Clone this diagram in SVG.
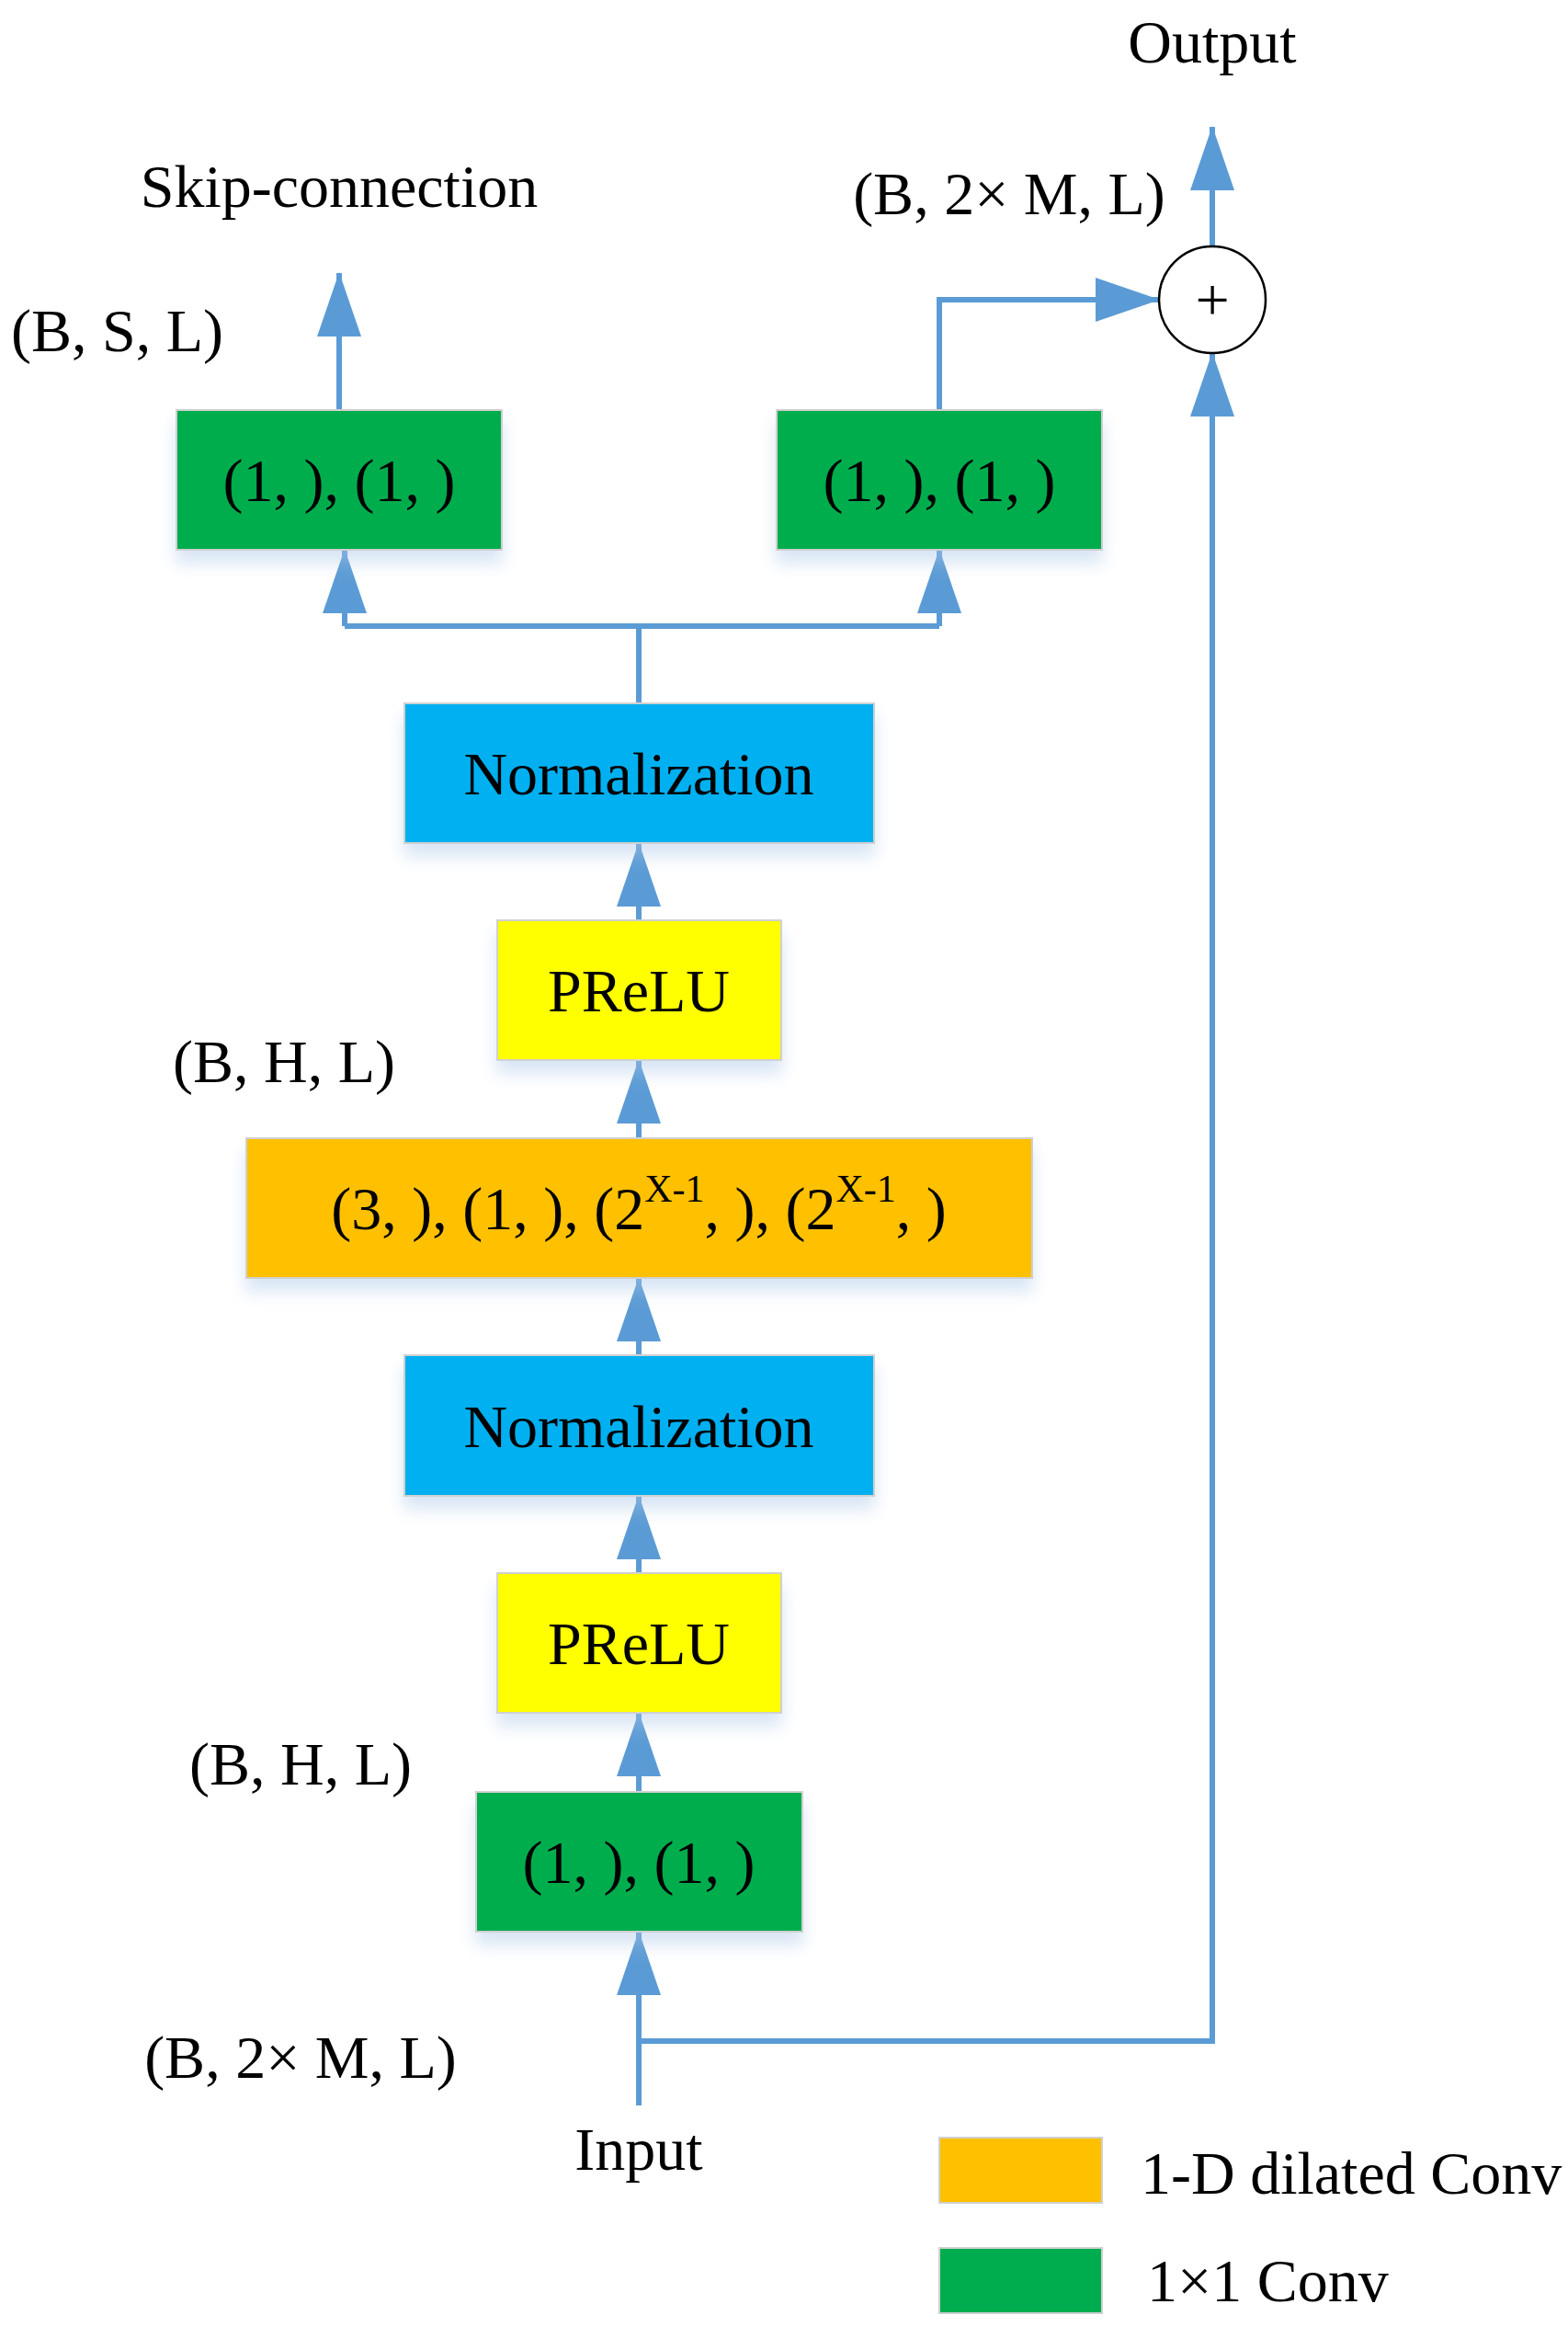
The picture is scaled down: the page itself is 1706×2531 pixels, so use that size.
<svg xmlns="http://www.w3.org/2000/svg" width="1706" height="2531" viewBox="0 0 1706 2531">
<style>
text{font-family:"Liberation Serif","Times New Roman",serif;fill:#000;font-size:66px}
.c{text-anchor:middle}
.box{stroke:#d0d0d0;stroke-width:2}
.g{fill:#00AD4E}.b{fill:#00B0F0}.y{fill:#FFFF00}.o{fill:#FFC000}
.ln{fill:none;stroke:#5B9BD5;stroke-width:6}
</style>
<defs>
<marker id="ah" markerUnits="userSpaceOnUse" markerWidth="70" markerHeight="48" viewBox="0 0 70 48" refX="69" refY="24" orient="auto"><path d="M0,0 L70,24 L0,48 Z" fill="#5B9BD5"/></marker>
<filter id="sh" x="-10%" y="-10%" width="120%" height="150%"><feDropShadow dx="0" dy="14" stdDeviation="9" flood-color="#a9c6e8" flood-opacity="0.45"/></filter>
</defs>
<rect width="1706" height="2531" fill="#fff"/>
<g id="connectors">
<path class="ln" d="M369,446 V297" marker-end="url(#ah)"/>
<path class="ln" d="M1022,446 V326 H1261" marker-end="url(#ah)"/>
<path class="ln" d="M1319,268 V138" marker-end="url(#ah)"/>
<path class="ln" d="M695,2220 H1319 V384" marker-end="url(#ah)"/>
<path class="ln" d="M695,765 V681 M375,681 H1022"/>
<path class="ln" d="M375,681 V598" marker-end="url(#ah)"/>
<path class="ln" d="M1022,681 V598" marker-end="url(#ah)"/>
<path class="ln" d="M695,1001 V917" marker-end="url(#ah)"/>
<path class="ln" d="M695,1238 V1153" marker-end="url(#ah)"/>
<path class="ln" d="M695,1474 V1390" marker-end="url(#ah)"/>
<path class="ln" d="M695,1711 V1627" marker-end="url(#ah)"/>
<path class="ln" d="M695,1949 V1863" marker-end="url(#ah)"/>
<path class="ln" d="M695,2290 V2101" marker-end="url(#ah)"/>
</g>
<g id="sum"><circle cx="1319" cy="326" r="58" fill="#fff" stroke="#000" stroke-width="2.5"/><text class="c" x="1319" y="348" font-size="60">+</text></g>
<g id="skip-conv" filter="url(#sh)"><rect class="box g" x="192" y="446" width="354" height="152"/></g>
<text class="c" x="369" y="545">(1, ), (1, )</text>
<g id="res-conv" filter="url(#sh)"><rect class="box g" x="845" y="446" width="354" height="152"/></g>
<text class="c" x="1022" y="545">(1, ), (1, )</text>
<g id="norm1" filter="url(#sh)"><rect class="box b" x="440" y="765" width="511" height="152"/></g>
<text class="c" x="695" y="864">Normalization</text>
<g id="prelu1" filter="url(#sh)"><rect class="box y" x="541" y="1001" width="309" height="152"/></g>
<text class="c" x="695" y="1100">PReLU</text>
<g id="dconv" filter="url(#sh)"><rect class="box o" x="268" y="1238" width="855" height="152"/></g>
<text class="c" x="695" y="1337">(3, ), (1, ), (2<tspan font-size="42" dy="-30">X-1</tspan><tspan dy="30">, ), (2</tspan><tspan font-size="42" dy="-30">X-1</tspan><tspan dy="30">, )</tspan></text>
<g id="norm2" filter="url(#sh)"><rect class="box b" x="440" y="1474" width="511" height="153"/></g>
<text class="c" x="695" y="1574">Normalization</text>
<g id="prelu2" filter="url(#sh)"><rect class="box y" x="541" y="1711" width="309" height="152"/></g>
<text class="c" x="695" y="1810">PReLU</text>
<g id="inconv" filter="url(#sh)"><rect class="box g" x="518" y="1949" width="355" height="152"/></g>
<text class="c" x="695" y="2048">(1, ), (1, )</text>
<g id="labels">
<text class="c" x="1319" y="68">Output</text>
<text class="c" x="369" y="225">Skip-connection</text>
<text class="c" x="1098" y="233">(B, 2× M, L)</text>
<text x="12" y="382">(B, S, L)</text>
<text class="c" x="309" y="1177">(B, H, L)</text>
<text class="c" x="327" y="1941">(B, H, L)</text>
<text class="c" x="327" y="2260">(B, 2× M, L)</text>
<text class="c" x="695" y="2360">Input</text>
</g>
<g id="legend">
<rect class="box o" x="1022" y="2325" width="177" height="71"/>
<text x="1241" y="2386">1-D dilated Conv</text>
<rect class="box g" x="1022" y="2445" width="177" height="71"/>
<text x="1248" y="2503">1×1 Conv</text>
</g>
</svg>
